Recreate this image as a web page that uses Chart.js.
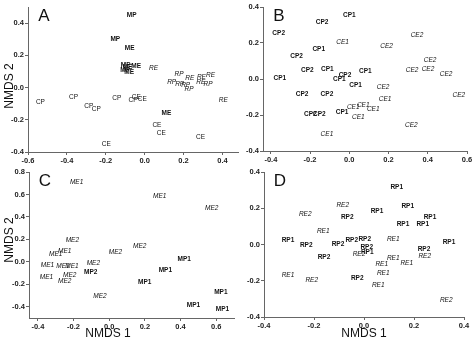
<!doctype html>
<html lang="en">
<head>
<meta charset="utf-8">
<title>NMDS ordination</title>
<script src="https://cdn.jsdelivr.net/npm/chart.js@4"></script>
<style>
    body { margin: 0; background: #fff; }
    #wrap { position: relative; width: 474px; height: 340px; }
    #wrap canvas { position: absolute; left: 0; top: 0; }
</style>
</head>
<body>
<div id="wrap">
    <canvas id="panelA" width="474" height="340"></canvas>
    <canvas id="panelB" width="474" height="340"></canvas>
    <canvas id="panelC" width="474" height="340"></canvas>
    <canvas id="panelD" width="474" height="340"></canvas>
</div>
<script>
// Panel A
var aText = ['MP','MP','ME','MP','ME','ME','ME','MP','RE','RP','RE','RE','RE','RE','RP','RP','RP','RP','RP','RE',
             'CP','CP','CP','CP','CP','CE','CP','CE','ME','CE','CE','CE','CE'];
var aX = [-0.067,-0.151,-0.077,-0.098,-0.044,-0.088,-0.080,-0.100,0.046,0.177,0.232,0.292,0.339,0.289,0.326,0.139,0.180,0.211,0.228,0.404,
          -0.536,-0.366,-0.143,-0.287,-0.249,-0.043,-0.060,-0.012,0.112,0.063,0.086,0.287,-0.197];
var aY = [0.450,0.300,0.245,0.140,0.130,0.125,0.094,0.110,0.120,0.083,0.060,0.067,0.075,0.033,0.023,0.033,0.023,0.013,-0.010,-0.081,
          -0.092,-0.060,-0.065,-0.115,-0.135,-0.060,-0.081,-0.070,-0.158,-0.231,-0.285,-0.310,-0.352];
var aTicksX = [-0.6,-0.4,-0.2,0,0.2,0.4];
var aTicksY = [-0.4,-0.2,0,0.2,0.4];

// Panel B
var bText = ['CP1','CP2','CP2','CE1','CE2','CE2','CP1','CP2','CE2','CP2','CP1','CP2','CP1','CP1','CE2','CE2','CE2',
             'CP1','CP1','CE2','CE2','CP2','CP2','CE1','CE1','CE1','CE1','CE1','CP1','CP2','CP2','CE2','CE1'];
var bX = [0.000,-0.139,-0.360,-0.034,0.345,0.190,-0.156,-0.269,0.412,-0.214,-0.112,-0.022,-0.051,0.082,0.320,0.401,0.493,
          -0.354,0.032,0.172,0.558,-0.241,-0.114,0.182,0.020,0.071,0.122,0.046,-0.037,-0.199,-0.153,0.316,-0.114];
var bY = [0.352,0.315,0.254,0.207,0.244,0.185,0.165,0.124,0.102,0.048,0.054,0.021,-0.002,0.046,0.050,0.054,0.028,
          0.006,-0.035,-0.043,-0.089,-0.082,-0.082,-0.113,-0.157,-0.146,-0.167,-0.213,-0.187,-0.193,-0.193,-0.259,-0.309];
var bTicksX = [-0.4,-0.2,0,0.2,0.4,0.6];
var bTicksY = [-0.4,-0.2,0,0.2,0.4];

// Panel C
var cText = ['ME1','ME1','ME2','ME2','ME2','ME2','ME1','ME1','MP1','ME1','ME2','ME1','ME1','MP1','MP2','ME2',
             'ME1','ME2','MP1','ME2','MP1','MP1','MP1'];
var cX = [-0.183,0.283,0.575,-0.207,0.171,0.035,-0.250,-0.300,0.421,-0.346,-0.089,-0.259,-0.209,0.315,-0.104,-0.222,
          -0.352,-0.250,0.199,-0.052,0.626,0.473,0.635];
var cY = [0.713,0.585,0.480,0.194,0.143,0.090,0.092,0.069,0.027,-0.027,-0.012,-0.042,-0.042,-0.075,-0.092,-0.116,
          -0.137,-0.170,-0.185,-0.302,-0.269,-0.385,-0.424];
var cTicksX = [-0.4,-0.2,0,0.2,0.4,0.6];
var cTicksY = [-0.4,-0.2,0,0.2,0.4,0.6,0.8];

// Panel D
var dText = ['RP1','RP1','RE2','RE2','RP1','RP2','RP1','RP1','RP1','RE1','RP1','RP2','RP2','RP2','RP2','RE1',
             'RP1','RP2','RP1','RE2','RP2','RE2','RP2','RE1','RE1','RE1','RE1','RE1','RE2','RP2','RE1','RE2'];
var dX = [0.131,0.175,-0.085,-0.235,0.052,-0.067,0.264,0.156,0.235,-0.163,-0.304,-0.231,-0.104,-0.049,0.003,0.117,
          0.340,0.011,0.013,-0.020,0.240,0.243,-0.160,0.117,0.171,0.071,0.077,-0.304,-0.209,-0.027,0.057,0.329];
var dY = [0.316,0.211,0.217,0.169,0.184,0.153,0.151,0.110,0.110,0.074,0.022,-0.002,0.004,0.026,0.029,0.028,
          0.013,-0.015,-0.040,-0.051,-0.024,-0.062,-0.070,-0.074,-0.103,-0.110,-0.156,-0.171,-0.195,-0.186,-0.222,-0.305];
var dTicksX = [-0.4,-0.2,0,0.2,0.4];
var dTicksY = [-0.4,-0.2,0,0.2,0.4];

var FONT = 'Arial, "Liberation Sans", sans-serif';
Chart.defaults.animation = false;
Chart.defaults.font.family = FONT;

// font style for a sample label: P samples bold, E samples italic
function labelStyle(t, panel) {
    if (panel === 'A') {
        if (t[0] === 'M') return 'bold';
        if (t[0] === 'C') return 'normal';
        return 'italic';
    }
    return t[1] === 'P' ? 'bold' : 'italic';
}

var panelPlugin = {
    id: 'panelText',
    afterDatasetsDraw: function(chart) {
        var o = chart.options.panel;
        var ctx = chart.ctx;
        var meta = chart.getDatasetMeta(0);
        ctx.save();
        ctx.fillStyle = '#111';
        ctx.textAlign = 'center';
        ctx.textBaseline = 'middle';
        meta.data.forEach(function(pt, i) {
            var t = o.text[i];
            ctx.font = labelStyle(t, o.letter) + ' 6.5px ' + FONT;
            ctx.fillText(t, pt.x, pt.y);
        });
        // panel letter
        var a = chart.chartArea;
        ctx.font = '17px ' + FONT;
        ctx.fillText(o.letter, a.left + 16, a.top + 9);
        ctx.font = '12px ' + FONT;
        if (o.xTitle) ctx.fillText('NMDS 1', o.xTitle[0], o.xTitle[1]);
        if (o.yTitle) {
            ctx.translate(o.yTitle[0], o.yTitle[1]);
            ctx.rotate(-Math.PI / 2);
            ctx.fillText('NMDS 2', 0, 0);
        }
        ctx.restore();
    }
};

function makePanel(id, letter, text, xs, ys, ticksX, ticksY, xr, yr, area, xTitle, yTitle) {
    var axis = {
        type: 'linear',
        grid: { drawOnChartArea: false, drawTicks: true, tickLength: 3, color: '#666' },
        border: { color: '#666', width: 1 },
        ticks: { color: '#222', font: { size: 7.5, weight: 'bold' }, padding: 1,
                 callback: function(v) { return v.toFixed(1); } }
    };
    new Chart(document.getElementById(id), {
        type: 'scatter',
        data: {
            datasets: [{
                data: xs.map(function(x, i) { return { x: x, y: ys[i] }; }),
                pointRadius: 0
            }]
        },
        options: {
            responsive: false,
            events: [],
            panel: { letter: letter, text: text, xTitle: xTitle, yTitle: yTitle },
            layout: { padding: { left: area[0] - 22, right: 474 - area[1], top: area[2], bottom: 340 - area[3] - 12 } },
            plugins: { legend: { display: false }, tooltip: { enabled: false } },
            scales: {
                x: Object.assign({}, axis, {
                    min: xr[0], max: xr[1],
                    afterBuildTicks: function(s) { s.ticks = ticksX.map(function(v) { return { value: v }; }); },
                    afterFit: function(s) { s.height = 12; }
                }),
                y: Object.assign({}, axis, {
                    min: yr[0], max: yr[1],
                    afterBuildTicks: function(s) { s.ticks = ticksY.map(function(v) { return { value: v }; }); },
                    afterFit: function(s) { s.width = 22; }
                })
            }
        },
        plugins: [panelPlugin]
    });
}

makePanel('panelA', 'A', aText, aX, aY, aTicksX, aTicksY, [-0.6, 0.48], [-0.4, 0.5], [28, 238, 7, 152], null, [10, 86]);
makePanel('panelB', 'B', bText, bX, bY, bTicksX, bTicksY, [-0.44, 0.6], [-0.4, 0.4], [263, 467, 7, 151], null, null);
makePanel('panelC', 'C', cText, cX, cY, cTicksX, cTicksY, [-0.45, 0.7], [-0.5, 0.8], [29, 234, 172, 318], [108, 334], [10, 240]);
makePanel('panelD', 'D', dText, dX, dY, dTicksX, dTicksY, [-0.4, 0.4], [-0.4, 0.4], [264, 464, 172, 317], [364, 334], null);
</script>
</body>
</html>
